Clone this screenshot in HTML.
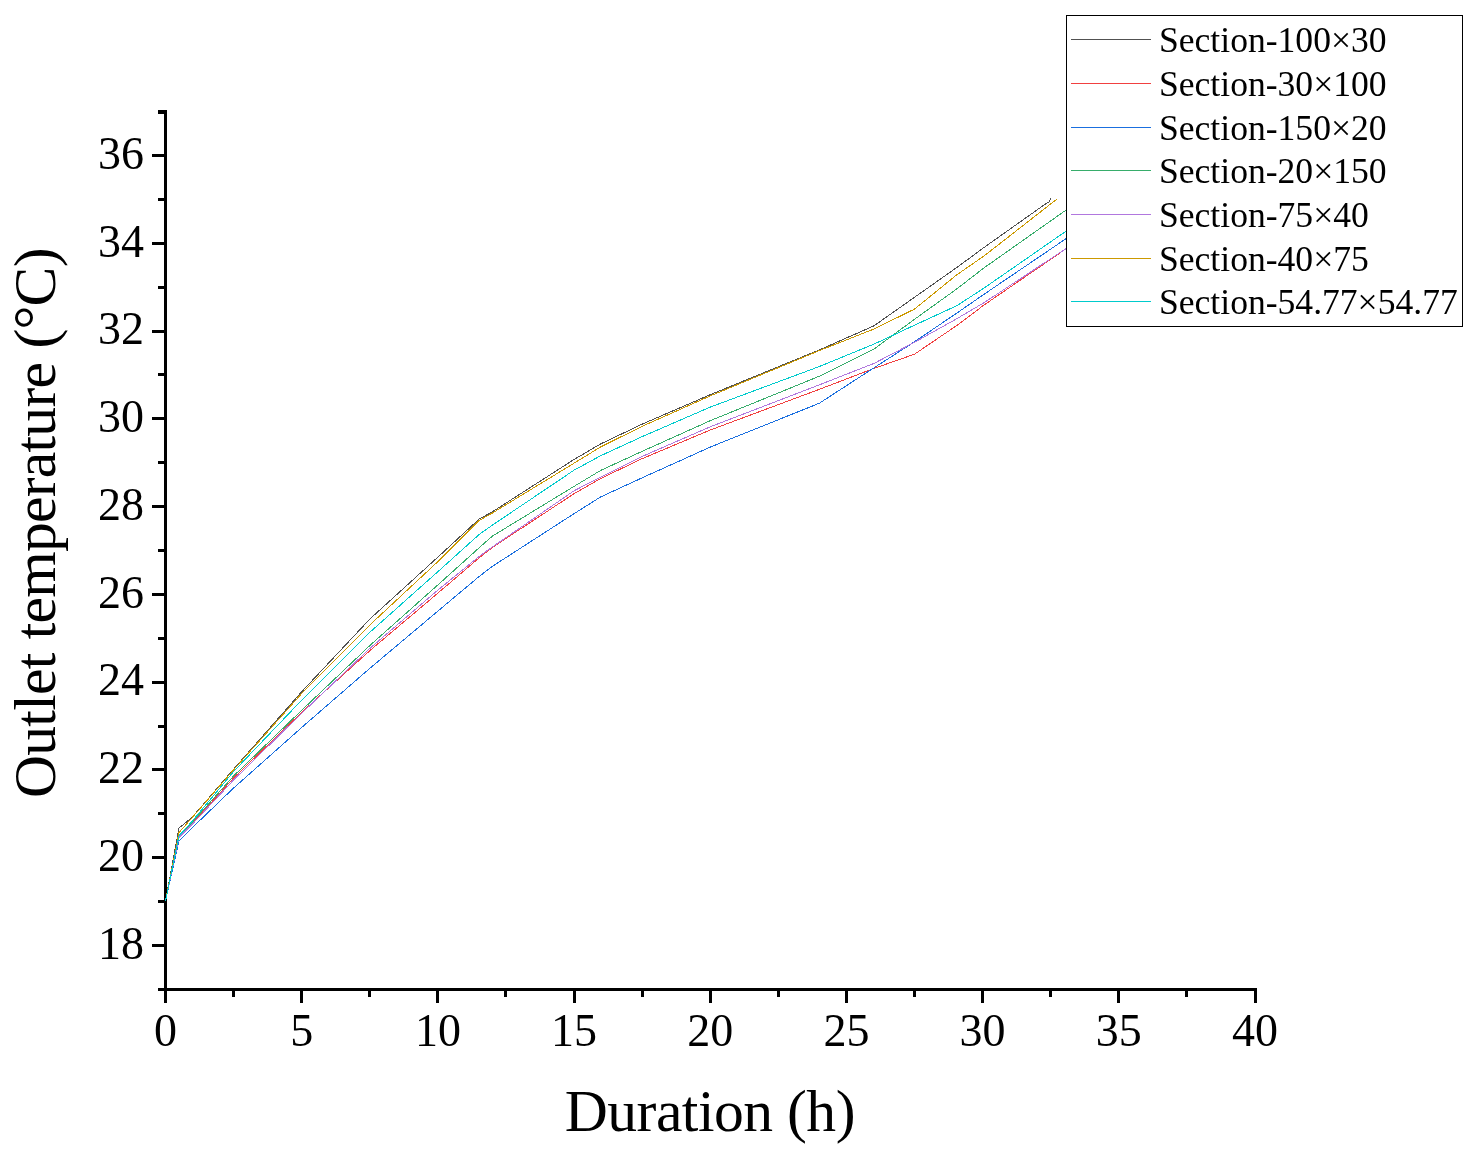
<!DOCTYPE html>
<html><head><meta charset="utf-8"><title>Outlet temperature vs duration</title>
<style>
html,body{margin:0;padding:0;background:#fff;}
body{width:1477px;height:1155px;overflow:hidden;}
svg{display:block;}
text{font-family:"Liberation Serif","Times New Roman",serif;fill:#000;}
.tk{font-size:46px;}
.ti{font-size:59.6px;}
.lg{font-size:35.6px;}
</style></head><body>
<svg width="1477" height="1155" viewBox="0 0 1477 1155">
<rect width="1477" height="1155" fill="#fff"/>

<g fill="#000" shape-rendering="crispEdges">
<rect x="164" y="110" width="3" height="881"/>
<rect x="164" y="988" width="1093" height="3"/>
<rect x="158" y="988" width="6" height="3"/>
<rect x="152" y="944" width="12" height="3"/>
<rect x="158" y="900" width="6" height="3"/>
<rect x="152" y="856" width="12" height="3"/>
<rect x="158" y="812" width="6" height="3"/>
<rect x="152" y="768" width="12" height="3"/>
<rect x="158" y="725" width="6" height="3"/>
<rect x="152" y="681" width="12" height="3"/>
<rect x="158" y="637" width="6" height="3"/>
<rect x="152" y="593" width="12" height="3"/>
<rect x="158" y="549" width="6" height="3"/>
<rect x="152" y="505" width="12" height="3"/>
<rect x="158" y="461" width="6" height="3"/>
<rect x="152" y="417" width="12" height="3"/>
<rect x="158" y="373" width="6" height="3"/>
<rect x="152" y="330" width="12" height="3"/>
<rect x="158" y="286" width="6" height="3"/>
<rect x="152" y="242" width="12" height="3"/>
<rect x="158" y="198" width="6" height="3"/>
<rect x="152" y="154" width="12" height="3"/>
<rect x="158" y="110" width="6" height="4"/>
<rect x="164" y="991" width="3" height="12"/>
<rect x="232" y="991" width="3" height="6"/>
<rect x="300" y="991" width="3" height="12"/>
<rect x="368" y="991" width="3" height="6"/>
<rect x="436" y="991" width="3" height="12"/>
<rect x="504" y="991" width="3" height="6"/>
<rect x="573" y="991" width="3" height="12"/>
<rect x="641" y="991" width="3" height="6"/>
<rect x="709" y="991" width="3" height="12"/>
<rect x="777" y="991" width="3" height="6"/>
<rect x="845" y="991" width="3" height="12"/>
<rect x="913" y="991" width="3" height="6"/>
<rect x="981" y="991" width="3" height="12"/>
<rect x="1049" y="991" width="3" height="6"/>
<rect x="1117" y="991" width="3" height="12"/>
<rect x="1185" y="991" width="3" height="6"/>
<rect x="1254" y="991" width="3" height="12"/>
</g>
<g fill="none" stroke-width="1" shape-rendering="crispEdges">
<polyline stroke="#515151" points="165.5,901.0 179.0,828.0 192.0,817.5 233.6,769.2 302.0,691.4 370.0,618.9 438.0,557.0 479.0,519.2 492.4,511.8 574.0,459.5 600.5,444.0 642.0,424.2 710.0,394.8 819.4,349.9 874.0,325.8 914.5,297.3 956.8,267.5 984.0,247.5 1044.0,205.0 1049.5,201.5 1050.5,198.5"/>
<polyline stroke="#F14040" points="165.5,901.0 179.0,837.0 192.0,823.8 233.6,778.0 302.0,712.0 370.0,650.5 438.0,593.0 479.0,558.0 492.4,547.4 574.0,493.7 600.5,478.6 642.0,458.7 710.0,430.1 819.4,389.3 874.0,368.4 914.5,354.2 956.8,325.5 984.0,305.0 1066.0,248.8 1075.0,243.0"/>
<polyline stroke="#1A6FDF" points="165.5,901.0 179.0,840.9 192.0,828.0 233.6,788.0 302.0,727.2 370.0,668.2 438.0,611.0 479.0,576.6 492.4,566.3 574.0,513.7 600.5,497.0 642.0,477.9 710.0,447.2 819.4,403.2 874.0,367.8 914.5,341.8 956.8,313.1 984.0,294.3 1066.0,238.7 1075.0,233.0"/>
<polyline stroke="#37AD6B" points="165.5,901.0 179.0,835.7 192.0,822.5 233.6,776.0 302.0,710.0 370.0,645.4 438.0,584.8 479.0,547.9 492.4,536.1 574.0,486.4 600.5,470.5 642.0,451.4 710.0,420.8 819.4,376.2 874.0,349.1 914.5,319.3 956.8,288.9 984.0,267.9 1066.0,210.1 1075.0,204.0"/>
<polyline stroke="#B177DE" points="165.5,901.0 179.0,837.5 192.0,824.5 233.6,780.0 302.0,713.0 370.0,648.3 438.0,590.0 479.0,556.5 492.4,546.9 574.0,490.8 600.5,477.1 642.0,456.5 710.0,426.9 819.4,384.8 874.0,363.4 914.5,342.3 956.8,318.7 984.0,302.7 1066.0,248.6 1075.0,243.0"/>
<polyline stroke="#CC9900" points="165.5,901.0 179.0,832.5 192.0,817.8 233.6,769.8 302.0,693.2 370.0,624.8 438.0,561.5 479.0,520.5 492.4,513.0 574.0,463.2 600.5,447.0 642.0,426.4 710.0,396.0 819.4,350.6 874.0,329.0 914.5,309.1 956.8,274.8 984.0,256.0 1056.9,199.1"/>
<polyline stroke="#00CBCC" points="165.5,901.0 179.0,835.7 192.0,821.5 233.6,771.5 302.0,699.8 370.0,632.1 438.0,571.6 479.0,534.6 492.4,525.1 574.0,470.2 600.5,455.8 642.0,436.7 710.0,407.2 819.4,366.5 874.0,344.1 914.5,325.2 956.8,305.7 984.0,288.1 1066.0,231.2 1075.0,225.0"/>
</g>
<g class="tk" text-anchor="middle">
<text x="165.5" y="1045.5">0</text>
<text x="301.7" y="1045.5">5</text>
<text x="437.9" y="1045.5">10</text>
<text x="574.1" y="1045.5">15</text>
<text x="710.2" y="1045.5">20</text>
<text x="846.4" y="1045.5">25</text>
<text x="982.6" y="1045.5">30</text>
<text x="1118.8" y="1045.5">35</text>
<text x="1255.0" y="1045.5">40</text>
</g>
<g class="tk" text-anchor="end">
<text x="144" y="958.7">18</text>
<text x="144" y="870.9">20</text>
<text x="144" y="783.2">22</text>
<text x="144" y="695.4">24</text>
<text x="144" y="607.6">26</text>
<text x="144" y="519.8">28</text>
<text x="144" y="432.0">30</text>
<text x="144" y="344.3">32</text>
<text x="144" y="256.5">34</text>
<text x="144" y="168.7">36</text>
</g>
<text class="ti" x="564.7" y="1131" textLength="290.8" lengthAdjust="spacing">Duration (h)</text>
<text class="ti" transform="translate(55,798) rotate(-90)" textLength="550.5" lengthAdjust="spacing">Outlet temperature (°C)</text>
<rect x="1066.5" y="15.5" width="396" height="311" fill="#fff" stroke="#000" stroke-width="1" shape-rendering="crispEdges"/>
<g shape-rendering="crispEdges">
<rect x="1071" y="39" width="80" height="1" fill="#515151"/>
<rect x="1071" y="83" width="80" height="1" fill="#F14040"/>
<rect x="1071" y="127" width="80" height="1" fill="#1A6FDF"/>
<rect x="1071" y="170" width="80" height="1" fill="#37AD6B"/>
<rect x="1071" y="214" width="80" height="1" fill="#B177DE"/>
<rect x="1071" y="258" width="80" height="1" fill="#CC9900"/>
<rect x="1071" y="301" width="80" height="1" fill="#00CBCC"/>
</g>
<g class="lg">
<text x="1159" y="51.7">Section-100×30</text>
<text x="1159" y="95.7">Section-30×100</text>
<text x="1159" y="139.7">Section-150×20</text>
<text x="1159" y="182.7">Section-20×150</text>
<text x="1159" y="226.7">Section-75×40</text>
<text x="1159" y="270.7">Section-40×75</text>
<text x="1159" y="313.7">Section-54.77×54.77</text>
</g>
</svg></body></html>
